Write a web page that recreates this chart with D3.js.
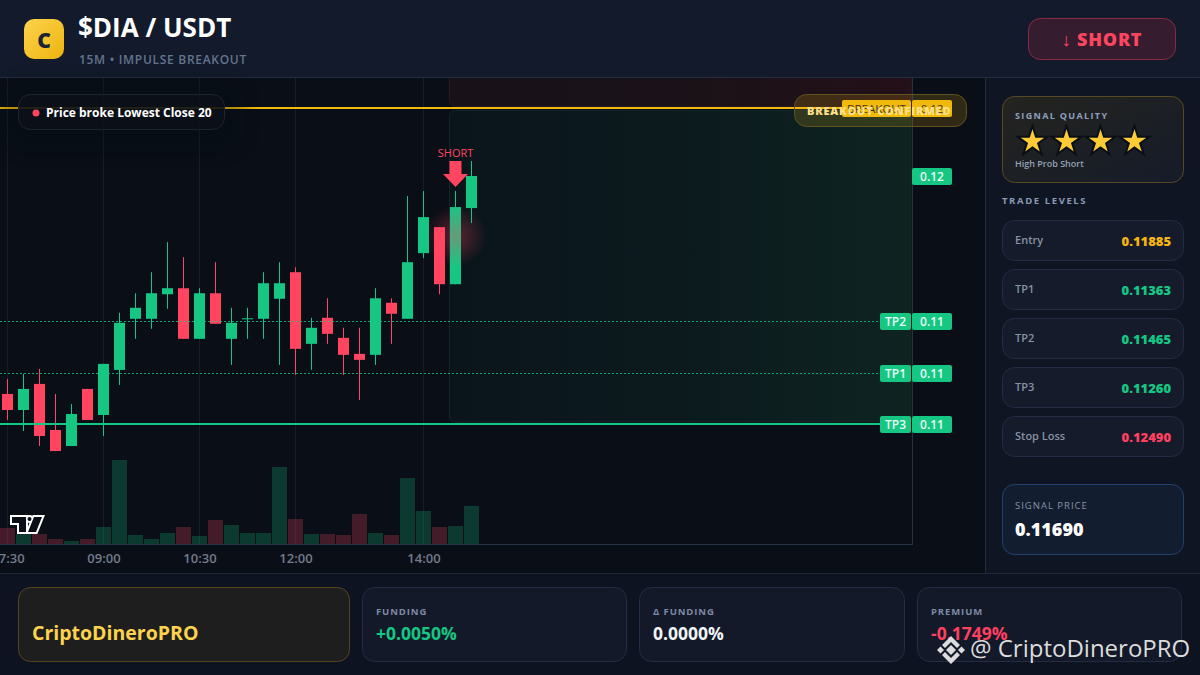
<!DOCTYPE html>
<html>
<head>
<meta charset="utf-8">
<script src="https://cdn.jsdelivr.net/npm/d3@7"></script>
<style>
  html, body { margin: 0; padding: 0; background: #0d1320; overflow: hidden; }
  svg { display: block; font-family: "Open Sans", "Noto Sans", sans-serif; }
</style>
</head>
<body>
<div id="chart"></div>
<script>
// candle values, one candle every 15 minutes from 07:30
var startTime = Date.UTC(2024, 0, 1, 7, 30);
var opens = [0.11320, 0.11288, 0.11340, 0.11248, 0.11216, 0.11330, 0.11278, 0.11368, 0.11470, 0.11470,
  0.11519, 0.11531, 0.11430, 0.11521, 0.11430, 0.11470, 0.11470, 0.11510, 0.11563, 0.11420,
  0.11472, 0.11432, 0.11400, 0.11398, 0.11502, 0.11470, 0.11601, 0.11653, 0.11539, 0.11691];
var highs = [0.11350, 0.11360, 0.11370, 0.11320, 0.11300, 0.11330, 0.11380, 0.11482, 0.11521, 0.11563,
  0.11623, 0.11593, 0.11531, 0.11583, 0.11492, 0.11492, 0.11563, 0.11583, 0.11573, 0.11472,
  0.11511, 0.11452, 0.11452, 0.11531, 0.11511, 0.11715, 0.11725, 0.11653, 0.11725, 0.11785];
var lows = [0.11268, 0.11246, 0.11216, 0.11206, 0.11216, 0.11268, 0.11236, 0.11338, 0.11430, 0.11450,
  0.11490, 0.11430, 0.11430, 0.11460, 0.11378, 0.11430, 0.11430, 0.11378, 0.11358, 0.11368,
  0.11420, 0.11358, 0.11308, 0.11378, 0.11420, 0.11470, 0.11591, 0.11519, 0.11539, 0.11661];
var closes = [0.11288, 0.11330, 0.11236, 0.11206, 0.11280, 0.11268, 0.11380, 0.11462, 0.11492, 0.11521,
  0.11531, 0.11430, 0.11521, 0.11460, 0.11462, 0.11471, 0.11541, 0.11541, 0.11410, 0.11452,
  0.11440, 0.11398, 0.11388, 0.11511, 0.11480, 0.11583, 0.11673, 0.11539, 0.11693, 0.11755];
var volumes = [16, 10, 10, 5, 3, 5, 17, 84, 9, 5, 11, 17, 8, 24, 19, 11, 11, 77, 25, 10, 10, 9, 30, 11, 9, 66, 33, 17, 18, 38];

var tickTimes = ["07:30", "09:00", "10:30", "12:00", "14:00"];
var levelNames = ["TP2", "TP1", "TP3"];
var levelPrices = [0.11465, 0.11361, 0.11260];
var breakoutPrice = 0.11890;
var lastPrice = 0.11755;
var glowPrice = 0.11635;
var shortIndex = 28;
var zoneStartIndex = 28;

var tradeNames = ["Entry", "TP1", "TP2", "TP3", "Stop Loss"];
var tradeValues = ["0.11885", "0.11363", "0.11465", "0.11260", "0.12490"];
var tradeColors = ["#f5b50f", "#16c784", "#16c784", "#16c784", "#ff4060"];
var footNames = ["FUNDING", "Δ FUNDING", "PREMIUM"];
var footValues = ["+0.0050%", "0.0000%", "-0.1749%"];
var footColors = ["#16c784", "#f1f5f9", "#ff4060"];
var starCount = 4;

var green = "#16c784";
var red = "#ff4560";
var gold = "#f0b90b";

var svg = d3.select("#chart").append("svg")
  .attr("width", 1200)
  .attr("height", 675);

var defs = svg.append("defs");

function gradient(id, x2, y2, stops) {
  var g = defs.append("linearGradient").attr("id", id)
    .attr("x1", 0).attr("y1", 0).attr("x2", x2).attr("y2", y2);
  stops.forEach(function(s, i) {
    g.append("stop").attr("offset", i / (stops.length - 1)).attr("stop-color", s);
  });
}
gradient("logoFill", 1, 1, ["#fcd34d", "#eeb40f"]);
gradient("zoneGreen", 1, 0, ["#0a151b", "#0c1a1e", "#0e2421"]);
gradient("zoneRed", 1, 0, ["#181118", "#1a1218", "#241018"]);
gradient("qualityFill", 1, 1, ["#24241f", "#151b29"]);

var glow = defs.append("radialGradient").attr("id", "glow");
glow.append("stop").attr("offset", 0).attr("stop-color", red).attr("stop-opacity", 0.33);
glow.append("stop").attr("offset", 0.5).attr("stop-color", red).attr("stop-opacity", 0.17);
glow.append("stop").attr("offset", 1).attr("stop-color", red).attr("stop-opacity", 0);

defs.append("filter").attr("id", "blur").attr("x", "-30%").attr("y", "-60%").attr("width", "160%").attr("height", "220%")
  .append("feGaussianBlur").attr("stdDeviation", 8);

defs.append("clipPath").attr("id", "plotClip").append("rect")
  .attr("x", 0).attr("y", 78).attr("width", 912).attr("height", 466);

function rect(parent, x, y, w, h, r, fill, stroke) {
  return parent.append("rect")
    .attr("x", x).attr("y", y).attr("width", w).attr("height", h).attr("rx", r)
    .attr("fill", fill).attr("stroke", stroke || "none");
}

function label(parent, x, y, str, size, weight, color, anchor, spacing) {
  return parent.append("text")
    .attr("x", x).attr("y", y).attr("dy", "0.36em")
    .attr("font-size", size).attr("font-weight", weight)
    .attr("fill", color).attr("text-anchor", anchor || "start")
    .attr("letter-spacing", spacing || 0)
    .text(str);
}

// page blocks
rect(svg, 0, 0, 1200, 675, 0, "#0d1320");
rect(svg, 0, 0, 1200, 78, 0, "#121a2b");
rect(svg, 0, 77, 1200, 1, 0, "#242d40");
rect(svg, 0, 78, 985, 495, 0, "#0a0e17");
rect(svg, 985, 78, 215, 495, 0, "#0f1523");
rect(svg, 985, 78, 1, 495, 0, "#242d40");
rect(svg, 0, 573, 1200, 1, 0, "#1f2738");

// scales
var parseTime = d3.utcParse("%Y-%m-%d %H:%M");
var candleTimes = opens.map(function(d, i) { return new Date(startTime + i * 15 * 60000); });
var tickDates = tickTimes.map(function(d) { return parseTime("2024-01-01 " + d); });

var xScale = d3.scaleUtc()
  .domain([candleTimes[0], candleTimes[candleTimes.length - 1]])
  .range([7.5, 471.5]);

var yScale = d3.scaleLinear()
  .domain([0.1126, 0.1226])
  .range([424, -77]);

var volScale = d3.scaleLinear()
  .domain([0, 100])
  .range([544, 444]);

var plot = svg.append("g").attr("clip-path", "url(#plotClip)");

// vertical grid
plot.selectAll(".grid").data(tickDates).enter().append("line")
  .attr("class", "grid")
  .attr("x1", function(d) { return xScale(d); })
  .attr("x2", function(d) { return xScale(d); })
  .attr("y1", 78).attr("y2", 544)
  .attr("stroke", "#161c29");

// position zones
var zoneX = xScale(candleTimes[zoneStartIndex]) - 6;
rect(plot, zoneX, 50, 912 - zoneX - 1, yScale(breakoutPrice) - 2 - 50, 6, "url(#zoneRed)", "#2a1a22");
rect(plot, zoneX, yScale(breakoutPrice) + 2, 912 - zoneX - 1, yScale(levelPrices[2]) - yScale(breakoutPrice) - 4, 6, "url(#zoneGreen)", "#14262a");

// volume
plot.selectAll(".vol").data(volumes).enter().append("rect")
  .attr("class", "vol")
  .attr("x", function(d, i) { return xScale(candleTimes[i]) - 7.5; })
  .attr("width", 15)
  .attr("y", function(d) { return volScale(d); })
  .attr("height", function(d) { return volScale(0) - volScale(d); })
  .attr("fill", function(d, i) { return closes[i] >= opens[i] ? green : red; })
  .attr("opacity", 0.24);

// wicks
plot.selectAll(".wick").data(opens).enter().append("line")
  .attr("class", "wick")
  .attr("x1", function(d, i) { return xScale(candleTimes[i]); })
  .attr("x2", function(d, i) { return xScale(candleTimes[i]); })
  .attr("y1", function(d, i) { return yScale(highs[i]); })
  .attr("y2", function(d, i) { return yScale(lows[i]); })
  .attr("stroke", function(d, i) { return closes[i] >= opens[i] ? green : red; });

// bodies
plot.selectAll(".body").data(opens).enter().append("rect")
  .attr("class", "body")
  .attr("x", function(d, i) { return xScale(candleTimes[i]) - 5.5; })
  .attr("width", 11)
  .attr("y", function(d, i) { return yScale(Math.max(opens[i], closes[i])); })
  .attr("height", function(d, i) { return Math.max(1, Math.abs(yScale(opens[i]) - yScale(closes[i]))); })
  .attr("fill", function(d, i) { return closes[i] >= opens[i] ? green : red; });

// signal glow and marker
var sx = xScale(candleTimes[shortIndex]);
plot.append("circle").attr("cx", sx).attr("cy", yScale(glowPrice)).attr("r", 31).attr("fill", "url(#glow)");

var marker = plot.append("g").attr("transform", "translate(" + sx + "," + yScale(highs[shortIndex]) + ")");
marker.append("path")
  .attr("d", "M-6,-30H6V-17H12.5L0,-4L-12.5,-17H-6Z")
  .attr("fill", red);
label(marker, 0, -38, "SHORT", 11, 400, red, "middle");

// price lines
plot.append("line")
  .attr("x1", 0).attr("x2", 842)
  .attr("y1", Math.floor(yScale(breakoutPrice))).attr("y2", Math.floor(yScale(breakoutPrice)))
  .attr("stroke", gold).attr("stroke-width", 2);

levelNames.forEach(function(name, i) {
  var y = yScale(levelPrices[i]);
  var solid = name === "TP3";
  plot.append("line")
    .attr("x1", 0).attr("x2", 880)
    .attr("y1", solid ? y : Math.floor(y) + 0.5).attr("y2", solid ? y : Math.floor(y) + 0.5)
    .attr("stroke", green)
    .attr("stroke-width", solid ? 2 : 1)
    .attr("stroke-dasharray", solid ? null : "2,2")
    .attr("opacity", solid ? 1 : 0.8);
});

// chart frame
rect(svg, 912, 78, 1, 467, 0, "#283247");
rect(svg, 0, 544, 913, 1, 0, "#283247");

// time axis
var timeAxis = d3.axisBottom(xScale)
  .tickValues(tickDates)
  .tickSize(0)
  .tickPadding(0)
  .tickFormat(d3.utcFormat("%H:%M"));

var axisG = svg.append("g").attr("transform", "translate(0,553.5)").call(timeAxis);
axisG.select(".domain").remove();
axisG.selectAll("text")
  .attr("font-family", "'Open Sans', sans-serif")
  .attr("font-size", 13)
  .attr("font-weight", 600)
  .attr("fill", "#747b8a");

// price tags on the right
var tags = svg.append("g");
function priceTag(name, price, color, textColor, width, weight, size) {
  var y = Math.floor(yScale(price));
  if (name) {
    rect(tags, 912 - width - 1, y - 8, width, 17, 2, color);
    label(tags, 912 - 1 - width / 2, y + 0.5, name, size, weight, textColor, "middle");
  }
  rect(tags, 912, y - 8, 40, 17, 2, color);
  label(tags, 932, y + 0.5, d3.format(".2f")(price), size, weight, textColor, "middle");
}
priceTag("BREAKOUT", breakoutPrice, gold, "#1a1a1a", 69, 400, 11.5);
priceTag("", lastPrice, green, "#eafff6", 0, 600, 12);
levelNames.forEach(function(name, i) {
  priceTag(name, levelPrices[i], green, "#eafff6", 31, 600, 12);
});

// badges over the plot
rect(svg, 0, 80, 245, 72, 24, "#05070c").attr("opacity", 0.25).attr("filter", "url(#blur)");
rect(svg, 18.5, 94.5, 206, 35, 12, "#0d1119", "#1e2431").attr("fill-opacity", 0.88);
svg.append("circle").attr("cx", 36).attr("cy", 113).attr("r", 3.5).attr("fill", red);
label(svg, 46, 112.5, "Price broke Lowest Close 20", 12, 700, "#ffffff");

rect(svg, 794.5, 94.5, 172, 32, 12, gold, "#5f5220").attr("fill-opacity", 0.16);
label(svg, 807, 111, "BREAKOUT CONFIRMED", 11, 800, "#ffe08a", "start", 0.8);

// tradingview mark, white outline first and the dark shapes on top
var tvShapes = ["M12,517H26V532H19V523H12Z", "M34,517H42L36,532H28Z"];
[["#ffffff", "#ffffff", 4], ["#0a0e17", "none", 0]].forEach(function(pass) {
  var tv = svg.append("g").attr("fill", pass[0]).attr("stroke", pass[1]).attr("stroke-width", pass[2]);
  tvShapes.forEach(function(s) { tv.append("path").attr("d", s); });
  tv.append("circle").attr("cx", 29.5).attr("cy", 519).attr("r", 2);
});

// header
rect(svg, 24, 19, 40, 40, 10, "url(#logoFill)");
label(svg, 44, 40, "C", 21, 800, "#1a2233", "middle");
label(svg, 78, 28, "$DIA / USDT", 26, 700, "#ffffff");
label(svg, 79, 59.5, "15M • IMPULSE BREAKOUT", 12, 600, "#64748b", "start", 0.7);
rect(svg, 1028.5, 18.5, 147, 41, 12, "#351c2e", "#8a2b43");
label(svg, 1102, 39.5, "↓ SHORT", 18, 800, red, "middle", 0.8);

// signal quality card
rect(svg, 1002.5, 96.5, 181, 86, 12, "url(#qualityFill)", "#574a22");
label(svg, 1015, 116, "SIGNAL QUALITY", 9, 700, "#8fa0bd", "start", 1.35);
var starPath = d3.symbol().type(d3.symbolStar).size(270);
svg.selectAll(".star").data(d3.range(starCount)).enter().append("path")
  .attr("class", "star")
  .attr("d", starPath)
  .attr("transform", function(d) { return "translate(" + (1032.5 + d * 34) + ",141.5)"; })
  .attr("fill", "#fccb35")
  .attr("stroke", "#0a0e17")
  .attr("stroke-width", 2);
label(svg, 1015, 163.5, "High Prob Short", 9, 600, "#94a3b8");

label(svg, 1002, 200.5, "TRADE LEVELS", 9.5, 700, "#8b9ab4", "start", 1.6);

// trade level cards
tradeNames.forEach(function(name, i) {
  var top = 220.5 + i * 49;
  rect(svg, 1002.5, top, 181, 40, 12, "#151b2b", "#232c42");
  label(svg, 1015, top + 19.5, name, 11, 600, "#8791a4");
  label(svg, 1171, top + 20.5, tradeValues[i], 13, 800, tradeColors[i], "end");
});

// signal price card
rect(svg, 1002.5, 484.5, 181, 70, 12, "#131d30", "#21406b");
label(svg, 1015, 505.5, "SIGNAL PRICE", 9.5, 400, "#8791a4", "start", 1);
label(svg, 1015, 530, "0.11690", 18, 800, "#ffffff");

// footer cards
rect(svg, 18.5, 587.5, 331, 74, 12, "#1f1e1f", "#55451f");
label(svg, 32, 633, "CriptoDineroPRO", 19.5, 700, "#fcd34d");
var footX = [362.5, 639.5, 917.5];
var footW = [264, 265, 264];
footNames.forEach(function(name, i) {
  rect(svg, footX[i], 587.5, footW[i], 74, 12, "#131928", "#232c42");
  label(svg, footX[i] + 13.5, 611.5, name, 9.5, 700, "#7d8aa3", "start", 0.9);
  label(svg, footX[i] + 13.5, 634, footValues[i], 17.5, 700, footColors[i]);
});

// watermark
var mark = svg.append("g").attr("transform", "translate(951,650)").attr("fill", "#dcdcdc");
mark.append("path").attr("d", "M0,-5L5,0L0,5L-5,0Z");
mark.append("path").attr("d", "M-14,0L-10.5,-3.5L-7,0L-10.5,3.5Z");
mark.append("path").attr("d", "M14,0L10.5,-3.5L7,0L10.5,3.5Z");
mark.append("path").attr("d", "M0,-14L9,-5L6,-2L0,-8L-6,-2L-9,-5Z");
mark.append("path").attr("d", "M0,14L9,5L6,2L0,8L-6,2L-9,5Z");
label(svg, 970, 648.5, "@ CriptoDineroPRO", 24, 400, "#dcdcdc");
</script>
</body>
</html>
